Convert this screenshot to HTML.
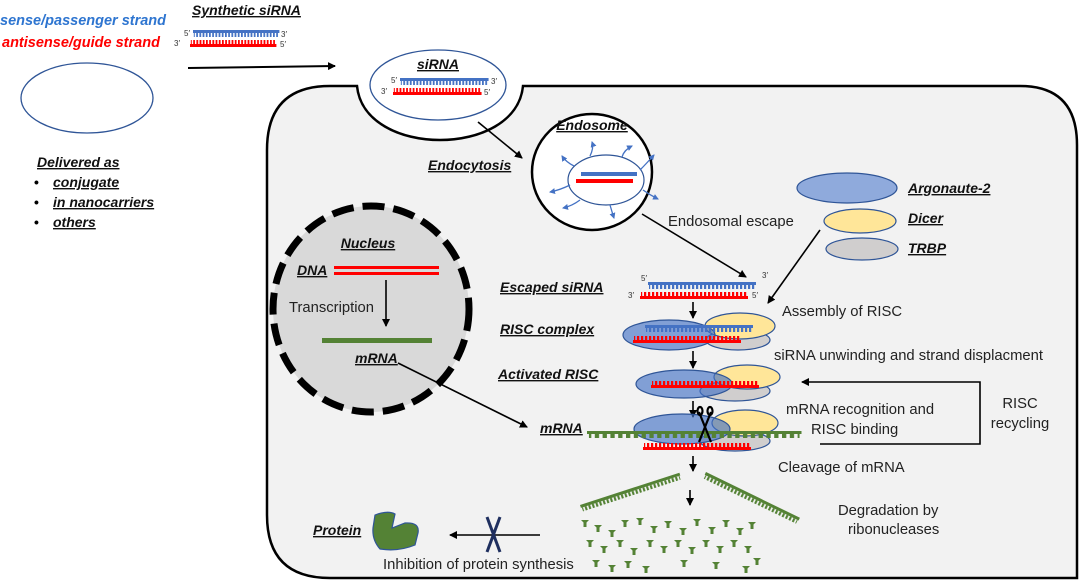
<!DOCTYPE html>
<html><head><meta charset="utf-8"><style>
html,body{margin:0;padding:0;background:#fff;}
svg{display:block;font-family:"Liberation Sans",sans-serif;}
.lb{font-weight:bold;font-style:italic;text-decoration:underline;font-size:14px;fill:#111;}
.tx{font-size:14.8px;fill:#222;}
.sm{font-size:8px;fill:#333;}
</style></head><body>
<svg width="1080" height="583" viewBox="0 0 1080 583" xmlns="http://www.w3.org/2000/svg">
<defs>
<pattern id="pb" width="4" height="10" patternUnits="userSpaceOnUse"><rect x="0" y="0" width="2.2" height="10" fill="#4472c4"/></pattern>
<pattern id="pr" width="4" height="10" patternUnits="userSpaceOnUse"><rect x="0" y="0" width="2.2" height="10" fill="#ff0000"/></pattern>
<pattern id="pg" width="4" height="10" patternUnits="userSpaceOnUse"><rect x="0" y="0" width="2.2" height="10" fill="#548235"/></pattern>
<marker id="ar" markerWidth="8" markerHeight="8" refX="7" refY="4" orient="auto" markerUnits="userSpaceOnUse"><path d="M0,0 L8,4 L0,8 z" fill="#000"/></marker>
<marker id="ab" markerWidth="6" markerHeight="6" refX="5" refY="3" orient="auto" markerUnits="userSpaceOnUse"><path d="M0,0 L6,3 L0,6 z" fill="#4472c4"/></marker>
<g id="bs"><rect x="0" y="0" width="108" height="3" fill="#4472c4"/><rect x="1" y="3" width="106" height="4" fill="url(#pb)"/></g>
<g id="rs"><rect x="1" y="0" width="106" height="4" fill="url(#pr)"/><rect x="0" y="4" width="108" height="3" fill="#ff0000"/></g>
<g id="gs"><rect x="0" y="0" width="110" height="3" fill="#548235"/><rect x="1" y="3" width="108" height="4" fill="url(#pg)"/></g>
<g id="t"><path d="M-4,0 L4,0 L1.5,2.5 L1.5,7 L-1.5,7 L-1.5,2.5 z" fill="#548235"/></g>
</defs>

<!-- cell -->
<path d="M330,86 L357,86 C364,158 516,158 523,86 L1020,86 Q1077,86 1077,145 L1077,578 L330,578 Q267,578 267,515 L267,150 Q267,86 330,86 z" fill="#f2f2f2" stroke="#000" stroke-width="2.5"/>

<!-- top-left legend -->
<text x="0" y="25" font-size="14.5" font-weight="bold" font-style="italic" fill="#2e75d0">sense/passenger strand</text>
<text x="2" y="47" font-size="14.5" font-weight="bold" font-style="italic" fill="#ff0000">antisense/guide strand</text>
<ellipse cx="87" cy="98" rx="66" ry="35" fill="#fff" stroke="#2f5597" stroke-width="1.3"/>
<text x="37" y="167" class="lb">Delivered as</text>
<text x="34" y="187" font-size="14" font-weight="bold">•</text><text x="53" y="187" class="lb">conjugate</text>
<text x="34" y="207" font-size="14" font-weight="bold">•</text><text x="53" y="207" class="lb">in nanocarriers</text>
<text x="34" y="227" font-size="14" font-weight="bold">•</text><text x="53" y="227" class="lb">others</text>

<!-- synthetic siRNA -->
<text x="192" y="15" class="lb">Synthetic siRNA</text>
<g transform="translate(193,30) scale(0.8,1)"><use href="#bs"/></g>
<g transform="translate(190,40) scale(0.8,1)"><use href="#rs"/></g>
<text x="184" y="36" class="sm">5′</text><text x="281" y="37" class="sm">3′</text>
<text x="174" y="46" class="sm">3′</text><text x="280" y="47" class="sm">5′</text>
<line x1="188" y1="68" x2="335" y2="66" stroke="#000" stroke-width="2" marker-end="url(#ar)"/>

<!-- siRNA vesicle -->
<ellipse cx="438" cy="85" rx="68" ry="35" fill="#fff" stroke="#2f5597" stroke-width="1.3"/>
<text x="438" y="69" class="lb" text-anchor="middle">siRNA</text>
<g transform="translate(400,78) scale(0.82,1)"><use href="#bs"/></g>
<g transform="translate(393,88) scale(0.82,1)"><use href="#rs"/></g>
<text x="391" y="83" class="sm">5′</text><text x="491" y="84" class="sm">3′</text>
<text x="381" y="94" class="sm">3′</text><text x="484" y="95" class="sm">5′</text>

<text x="428" y="170" class="lb">Endocytosis</text>
<line x1="478" y1="122" x2="522" y2="158" stroke="#000" stroke-width="1.6" marker-end="url(#ar)"/>

<!-- endosome -->
<ellipse cx="592" cy="172" rx="60" ry="58" fill="#fff" stroke="#000" stroke-width="2.5"/>
<text x="592" y="130" class="lb" text-anchor="middle">Endosome</text>
<ellipse cx="606" cy="180" rx="38" ry="25" fill="#fff" stroke="#2f5597" stroke-width="1.2"/>
<rect x="581" y="172" width="56" height="4" fill="#4472c4"/>
<rect x="576" y="179" width="57" height="4" fill="#ff0000"/>
<g stroke="#4472c4" stroke-width="1.3" fill="none">
<path d="M590,156 Q594,148 592,142" marker-end="url(#ab)"/>
<path d="M622,157 Q624,150 632,146" marker-end="url(#ab)"/>
<path d="M640,170 Q646,164 654,155" marker-end="url(#ab)"/>
<path d="M574,166 Q566,162 562,156" marker-end="url(#ab)"/>
<path d="M570,185 Q560,190 550,192" marker-end="url(#ab)"/>
<path d="M580,200 Q572,206 563,208" marker-end="url(#ab)"/>
<path d="M610,205 Q612,212 614,218" marker-end="url(#ab)"/>
<path d="M643,190 Q650,195 658,199" marker-end="url(#ab)"/>
</g>
<text x="668" y="226" class="tx">Endosomal escape</text>
<line x1="642" y1="214" x2="746" y2="277" stroke="#000" stroke-width="1.6" marker-end="url(#ar)"/>

<!-- RISC components -->
<ellipse cx="847" cy="188" rx="50" ry="15" fill="#8faadc" stroke="#2f5597" stroke-width="1.2"/>
<ellipse cx="860" cy="221" rx="36" ry="12" fill="#ffe699" stroke="#2f5597" stroke-width="1.2"/>
<ellipse cx="862" cy="249" rx="36" ry="11" fill="#d0cece" stroke="#2f5597" stroke-width="1.2"/>
<text x="908" y="193" class="lb">Argonaute-2</text>
<text x="908" y="223" class="lb">Dicer</text>
<text x="908" y="253" class="lb">TRBP</text>
<line x1="820" y1="230" x2="768" y2="303" stroke="#000" stroke-width="1.6" marker-end="url(#ar)"/>

<!-- nucleus -->
<ellipse cx="371" cy="309" rx="98" ry="103" fill="#d9d9d9" stroke="#000" stroke-width="7" stroke-dasharray="22,9"/>
<text x="368" y="248" class="lb" text-anchor="middle">Nucleus</text>
<text x="297" y="275" class="lb">DNA</text>
<rect x="334" y="266" width="105" height="3" fill="#ff0000"/>
<rect x="334" y="272" width="105" height="3" fill="#ff0000"/>
<text x="289" y="312" class="tx">Transcription</text>
<line x1="386" y1="280" x2="386" y2="326" stroke="#000" stroke-width="1.6" marker-end="url(#ar)"/>
<rect x="322" y="338" width="110" height="5" fill="#548235"/>
<text x="355" y="363" class="lb">mRNA</text>
<line x1="398" y1="363" x2="527" y2="427" stroke="#000" stroke-width="1.6" marker-end="url(#ar)"/>

<!-- left labels -->
<text x="500" y="292" class="lb">Escaped siRNA</text>
<text x="500" y="334" class="lb">RISC complex</text>
<text x="498" y="379" class="lb">Activated RISC</text>
<text x="540" y="433" class="lb">mRNA</text>

<!-- escaped siRNA -->
<g transform="translate(648,282)"><use href="#bs"/></g>
<g transform="translate(640,292)"><use href="#rs"/></g>
<text x="641" y="281" class="sm">5′</text><text x="762" y="278" class="sm">3′</text>
<text x="628" y="298" class="sm">3′</text><text x="752" y="298" class="sm">5′</text>
<line x1="693" y1="302" x2="693" y2="318" stroke="#000" stroke-width="1.6" marker-end="url(#ar)"/>

<!-- RISC complex -->
<ellipse cx="738" cy="340" rx="32" ry="10" fill="#d0cece" stroke="#2f5597" stroke-width="1.2"/>
<ellipse cx="740" cy="326" rx="35" ry="13" fill="#ffe699" stroke="#2f5597" stroke-width="1.2"/>
<ellipse cx="669" cy="335" rx="46" ry="15" fill="#4472c4" fill-opacity="0.65" stroke="#2f5597" stroke-width="1.2"/>
<g transform="translate(645,325)"><use href="#bs"/></g>
<g transform="translate(633,336)"><use href="#rs"/></g>
<line x1="693" y1="351" x2="693" y2="368" stroke="#000" stroke-width="1.6" marker-end="url(#ar)"/>

<!-- activated RISC -->
<ellipse cx="735" cy="391" rx="35" ry="10" fill="#d0cece" stroke="#2f5597" stroke-width="1.2"/>
<ellipse cx="747" cy="377" rx="33" ry="12" fill="#ffe699" stroke="#2f5597" stroke-width="1.2"/>
<ellipse cx="684" cy="384" rx="48" ry="14" fill="#4472c4" fill-opacity="0.65" stroke="#2f5597" stroke-width="1.2"/>
<g transform="translate(651,381)"><use href="#rs"/></g>
<line x1="693" y1="401" x2="693" y2="417" stroke="#000" stroke-width="1.6" marker-end="url(#ar)"/>

<!-- mRNA binding -->
<ellipse cx="735" cy="441" rx="35" ry="10" fill="#d0cece" stroke="#2f5597" stroke-width="1.2"/>
<ellipse cx="745" cy="423" rx="33" ry="13" fill="#ffe699" stroke="#2f5597" stroke-width="1.2"/>
<ellipse cx="682" cy="429" rx="48" ry="15" fill="#4472c4" fill-opacity="0.65" stroke="#2f5597" stroke-width="1.2"/>
<g transform="translate(587,431) scale(1.95,1)"><use href="#gs"/></g>
<g transform="translate(643,443)"><use href="#rs"/></g>
<g stroke="#000" stroke-width="2.2" fill="none">
<line x1="699" y1="412" x2="711" y2="442"/><line x1="711" y1="412" x2="699" y2="442"/>
<ellipse cx="700" cy="411" rx="2.5" ry="4"/><ellipse cx="710" cy="411" rx="2.5" ry="4"/>
</g>
<line x1="693" y1="456" x2="693" y2="471" stroke="#000" stroke-width="1.6" marker-end="url(#ar)"/>

<!-- right texts -->
<text x="782" y="316" class="tx">Assembly of RISC</text>
<text x="774" y="360" class="tx">siRNA unwinding and strand displacment</text>
<text x="786" y="414" class="tx">mRNA recognition and</text>
<text x="811" y="434" class="tx">RISC binding</text>
<text x="778" y="472" class="tx">Cleavage of mRNA</text>
<text x="838" y="515" class="tx">Degradation by</text>
<text x="848" y="534" class="tx">ribonucleases</text>
<text x="1020" y="408" class="tx" text-anchor="middle">RISC</text>
<text x="1020" y="428" class="tx" text-anchor="middle">recycling</text>
<path d="M820,444 L980,444 L980,382 L802,382" fill="none" stroke="#000" stroke-width="1.6" marker-end="url(#ar)"/>

<!-- fragments -->
<g transform="translate(580,505) rotate(-18)"><use href="#gs" transform="scale(0.95,1)"/></g>
<g transform="translate(706,472) rotate(26)"><use href="#gs" transform="scale(0.95,1)"/></g>
<line x1="690" y1="490" x2="690" y2="505" stroke="#000" stroke-width="1.6" marker-end="url(#ar)"/>
<g>
<use href="#t" x="585" y="520"/><use href="#t" x="598" y="525"/><use href="#t" x="612" y="530"/><use href="#t" x="625" y="520"/>
<use href="#t" x="640" y="518"/><use href="#t" x="654" y="526"/><use href="#t" x="668" y="521"/><use href="#t" x="683" y="528"/>
<use href="#t" x="697" y="519"/><use href="#t" x="712" y="527"/><use href="#t" x="726" y="520"/><use href="#t" x="740" y="528"/><use href="#t" x="752" y="522"/>
<use href="#t" x="590" y="540"/><use href="#t" x="604" y="546"/><use href="#t" x="620" y="540"/><use href="#t" x="634" y="548"/>
<use href="#t" x="650" y="540"/><use href="#t" x="664" y="546"/><use href="#t" x="678" y="540"/><use href="#t" x="692" y="547"/>
<use href="#t" x="706" y="540"/><use href="#t" x="720" y="546"/><use href="#t" x="734" y="540"/><use href="#t" x="748" y="546"/>
<use href="#t" x="596" y="560"/><use href="#t" x="612" y="565"/><use href="#t" x="628" y="561"/><use href="#t" x="646" y="566"/>
<use href="#t" x="684" y="560"/><use href="#t" x="716" y="562"/><use href="#t" x="746" y="566"/><use href="#t" x="757" y="558"/>
</g>

<!-- protein -->
<text x="313" y="535" class="lb">Protein</text>
<path d="M375,515 Q388,510 395,514 L392,528 L405,523 Q420,522 418,533 L415,545 Q398,552 380,549 Q372,540 373,528 z" fill="#548235" stroke="#2f5597" stroke-width="1.2"/>
<line x1="540" y1="535" x2="450" y2="535" stroke="#000" stroke-width="1.6" marker-end="url(#ar)"/>
<line x1="487" y1="517" x2="500" y2="552" stroke="#1f2f5f" stroke-width="3"/>
<line x1="500" y1="517" x2="487" y2="552" stroke="#1f2f5f" stroke-width="3"/>
<text x="383" y="569" class="tx">Inhibition of protein synthesis</text>
</svg>
</body></html>
